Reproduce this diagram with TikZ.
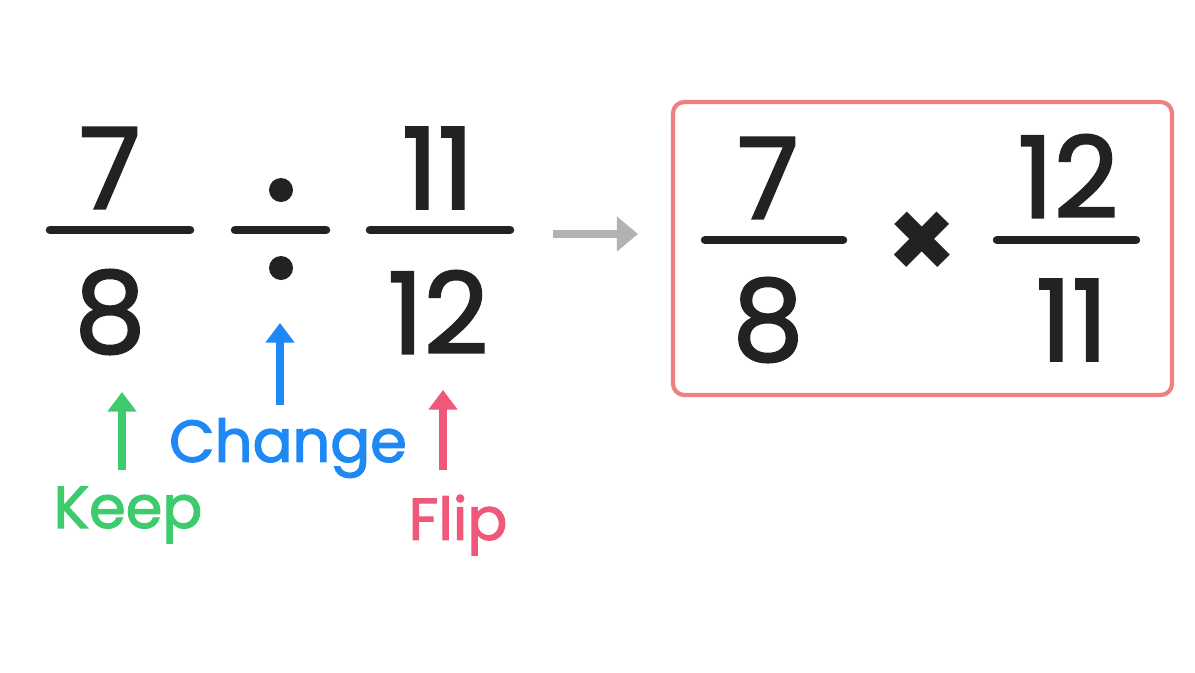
\documentclass[tikz,border=0pt]{standalone}
\usepackage{fontspec}
\setmainfont{Poppins}
\newfontfamily\heavy{Poppins}[FakeBold=2]
\usetikzlibrary{arrows.meta}
\definecolor{kgreen}{HTML}{3DCB6E}
\definecolor{cblue}{HTML}{1E88F5}
\definecolor{fpink}{HTML}{F0587A}
\definecolor{bred}{HTML}{F08080}
\definecolor{dgray}{HTML}{222222}
\begin{document}
\begin{tikzpicture}[x=0.025cm,y=-0.025cm,
  num/.style={font=\fontsize{80}{80}\heavy, text=dgray, inner sep=0},
  lbl/.style={font=\fontsize{42}{44}\heavy, inner sep=0},
  bar/.style={line width=6pt, dgray, line cap=round},
  up/.style={line width=5pt, -{Triangle[length=14pt,width=20pt]}}]
\useasboundingbox (0,0) rectangle (1195,672);
% left side
\draw[bar] (50,230) coordinate (b1a) -- (190,230) coordinate (b1b);
\node[num] (n7) at (110,168) {7};
\node[num] (d8) at (110,312) {8};
\draw[bar] (235,230) coordinate (b2a) -- (326,230) coordinate (b2b);
\fill[dgray] (281,190) circle (12);
\fill[dgray] (281,268) circle (12);
\draw[bar] (370,230) coordinate (b3a) -- (510,230) coordinate (b3b);
\node[num] (n11) at (438,168) {11};
\node[num] (d12) at (438,312) {12};
% gray arrow
\coordinate (ga) at (553,234); \coordinate (gb) at (638,234);
\draw[line width=5.5pt, gray!60, -{Triangle[length=15pt,width=24pt]}] (ga) -- (gb);
% box
\draw[bred, line width=3pt, rounded corners=8] (673,102) rectangle (1172,395);
\draw[bar] (705,240) -- (843,240);
\node[num] (r7) at (768,178) {7};
\node[num] (r8) at (768,320) {8};
\node[font=\fontsize{80}{80}\selectfont\bfseries, text=dgray, inner sep=0] (times) at (922,246) {×};
\draw[bar] (997,240) -- (1136,240);
\node[num] (r12) at (1068,176) {12};
\node[num] (r11) at (1072,320) {11};
% labels
\node[lbl, text=kgreen] (keep) at (128,515) {Keep};
\node[lbl, text=cblue] (change) at (288,448) {Change};
\node[lbl, text=fpink] (flip) at (458,525) {Flip};
\coordinate (ka) at (122,470); \coordinate (kb) at (122,392);
\draw[up, kgreen] (ka) -- (kb);
\coordinate (ca) at (280,405); \coordinate (cb) at (280,323);
\draw[up, cblue] (ca) -- (cb);
\coordinate (fa) at (443,470); \coordinate (fb) at (443,390);
\draw[up, fpink] (fa) -- (fb);
\end{tikzpicture}
\end{document}
